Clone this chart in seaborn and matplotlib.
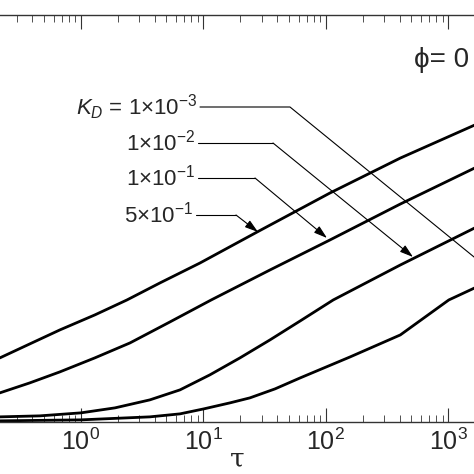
import numpy as np
import pandas as pd
import matplotlib
matplotlib.use("Agg")
import matplotlib.pyplot as plt
import seaborn as sns
from matplotlib.lines import Line2D

# values (tau on log axis, y in arbitrary linear units)
tau_1 = [0.218, 0.383, 0.674, 1.30, 2.38, 4.42, 9.4, 27.5, 108, 406, 1640]
y_1 = [64, 78, 92, 107, 122, 139, 159, 190, 229, 264, 297]
tau_2 = [0.218, 0.383, 0.674, 1.30, 2.52, 5.34, 11.6, 35.0, 108, 406, 1640]
y_2 = [29, 39, 50, 64, 79, 100, 122, 152, 182, 218, 254]
tau_3 = [0.218, 0.462, 1.0, 1.90, 3.66, 6.45, 11.3, 19.9, 35.0, 61.8, 115, 406, 1640]
y_3 = [5, 6, 9, 14, 22, 32, 47, 64, 82, 101, 122, 157, 194]
tau_4 = [0.218, 1.0, 3.66, 6.45, 10.1, 16.5, 24.0, 38.5, 61.8, 158, 406, 1010, 1640]
y_4 = [1, 2, 5, 8, 13, 19, 24, 33, 44, 65, 87, 122, 134]
kd_labels = ["$K_D$ = 1×10$^{-3}$", "1×10$^{-2}$", "1×10$^{-1}$", "5×10$^{-1}$"]

sns.set_style("ticks")
plt.rcParams["font.family"] = ["Liberation Sans", "DejaVu Sans"]
plt.rcParams["mathtext.fontset"] = "custom"
plt.rcParams["mathtext.rm"] = "Liberation Sans"
plt.rcParams["mathtext.it"] = "Liberation Sans:italic"

fig = plt.figure(figsize=(4.74, 4.74), dpi=100)
ax = fig.add_axes([0, 0.110, 1, 0.858])
for t, y in [(tau_1, y_1), (tau_2, y_2), (tau_3, y_3), (tau_4, y_4)]:
    df = pd.DataFrame({"tau": t, "y": y})
    sns.lineplot(data=df, x="tau", y="y", ax=ax, color="black", lw=2)

ax.set_xscale("log")
ax.set_xlim(10 ** -0.66, 10 ** 3.21)
ax.set_ylim(0, 407)
ax.set_yticks([])
ax.set_ylabel("")
ax.set_xlabel("τ", fontsize=19, family=["DejaVu Serif"], labelpad=-6)
for s in ["left", "right"]:
    ax.spines[s].set_visible(False)
for s in ["top", "bottom"]:
    ax.spines[s].set_linewidth(1.0)
    ax.spines[s].set_color("#333333")
ax.tick_params(axis="x", which="major", direction="in", length=10, top=True, labelsize=18, pad=5, color="#333333")
ax.tick_params(axis="x", which="minor", direction="in", length=5, top=True, color="#333333")
ax.xaxis.set_minor_locator(matplotlib.ticker.LogLocator(subs=np.arange(2, 10)))
ax.xaxis.set_major_locator(matplotlib.ticker.LogLocator(numticks=10))

H = 474
fig.text(414, H - 60, "ϕ= 0", fontsize=20, va="center", transform=None)
leaders = [
    (197, 107, [(200, 107), (290, 107), (490, 270)], False),
    (195, 143, [(198, 143), (273, 143), (413, 257)], True),
    (195, 178, [(198, 178), (255, 178), (327, 238)], True),
    (193, 215, [(196, 215), (236, 215), (258, 232)], True),
]
for lab, (tx, ty, pts, arrow) in zip(kd_labels, leaders):
    fig.text(tx, H - ty, lab, fontsize=16, ha="right", va="center", transform=None)
    xs = [p[0] for p in pts]
    ys = [H - p[1] for p in pts]
    n = len(pts) if not arrow else len(pts) - 1
    fig.add_artist(Line2D(xs[:n], ys[:n], transform=None, color="black", lw=0.8))
    if arrow:
        ax.annotate("", xy=(xs[-1], ys[-1]), xytext=(xs[-2], ys[-2]),
                    xycoords="figure pixels", textcoords="figure pixels",
                    arrowprops=dict(arrowstyle="-|>,head_length=0.8,head_width=0.25",
                                    color="black", lw=0.8, shrinkA=0, shrinkB=0))

fig.savefig("out.png", dpi=100)
